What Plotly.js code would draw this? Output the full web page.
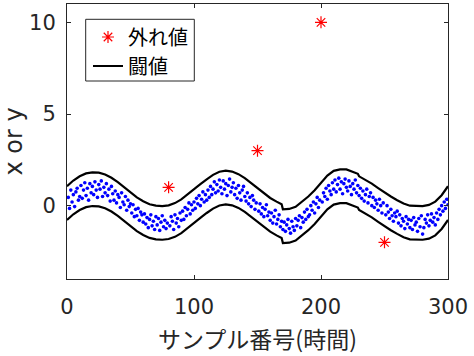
<!DOCTYPE html>
<html>
<head>
<meta charset="utf-8">
<script src="https://cdn.plot.ly/plotly-3.0.1.min.js"></script>
<style>html,body{margin:0;padding:0;background:#fff;}#chart{width:474px;height:356px;}</style>
</head>
<body>
<div id="chart"></div>
<script>
// Sample values (x = 1..300), null where the point is flagged as an outlier
const sampleY = [
  0.45,-0.15,0.85,0.2,0.6,-0.05,0.75,0.95,0.3,0.5,
  1.1,0.4,0.85,1.25,0.55,0.95,0.3,1.2,0.7,1.05,
  0.6,1.3,0.85,0.45,1.15,0.9,1.35,0.5,1.0,0.7,
  1.2,0.55,0.9,0.25,1.05,0.65,0.3,0.8,0.15,0.6,
  0.45,-0.1,0.7,0.2,0.05,0.5,-0.25,0.3,-0.05,0.1,
  -0.4,0.05,-0.6,-0.2,-0.55,-0.15,-0.8,-0.35,-0.5,-0.9,
  -0.45,-1.0,-0.65,-1.2,-0.75,-0.5,-1.1,-0.85,-1.3,-0.6,
  -1.05,-0.7,-1.35,-0.9,-0.55,-1.15,-0.8,-1.25,-0.95,null,
  -1.1,-0.6,-0.85,-1.3,-0.5,-0.95,-0.7,-1.15,-0.4,-0.8,
  -0.3,-0.75,-0.1,-0.55,-0.2,0.15,-0.45,0.05,-0.25,0.2,
  -0.15,0.4,0.1,0.55,0.0,0.35,0.75,0.2,0.6,0.3,
  0.85,0.45,1.05,0.6,0.9,1.3,0.7,1.15,0.8,1.4,
  1.0,0.65,1.35,0.9,1.2,0.55,1.1,1.45,0.75,1.0,
  1.25,0.6,0.95,0.4,1.1,0.7,0.3,0.85,1.05,0.5,
  0.25,0.7,0.1,0.45,-0.05,0.55,0.3,-0.2,0.15,null,
  -0.3,0.1,-0.45,-0.1,-0.6,-0.2,0.05,-0.55,-0.35,-0.8,
  -0.4,-0.95,-0.6,-0.25,-1.0,-0.75,-0.5,-1.15,-0.85,-1.3,
  -0.9,-1.4,-1.05,-0.75,-1.25,-1.5,-0.85,-1.15,-1.35,-0.7,
  -1.1,-0.8,-0.55,-1.2,-0.65,-0.9,-0.35,-0.75,-0.2,-0.6,
  -0.5,0.0,-0.25,0.2,-0.4,0.1,0.45,-0.1,0.3,null,
  0.2,0.7,0.5,0.95,0.35,1.1,0.8,0.6,1.25,0.9,
  1.4,0.75,1.15,1.5,0.9,1.3,0.65,1.2,1.45,1.0,
  0.8,1.35,1.05,0.6,1.2,0.9,1.4,0.7,1.1,0.55,
  0.95,0.4,0.8,0.25,0.6,0.9,0.15,0.5,0.7,0.0,
  0.45,-0.1,0.3,0.1,-0.25,0.35,0.0,-0.4,0.15,null,
  -0.5,0.0,-0.35,-0.7,-0.2,-0.55,-0.85,-0.4,-0.6,-0.3,
  -0.95,-0.5,-1.1,-0.7,-0.85,-1.25,-0.6,-1.0,-0.75,-1.2,
  -0.8,-1.3,-0.65,-1.05,-0.9,-1.4,-0.7,-1.15,-0.55,-1.55,
  -1.2,-0.75,-0.95,-0.5,-1.1,-0.8,-0.45,-0.9,-0.65,-1.05,
  -0.4,-0.75,-0.2,-0.5,0.0,-0.3,0.2,-0.15,0.35,0.05
];
const sampleX = sampleY.map((_, i) => i + 1);

// Threshold curves
const thrX = [0,5,10,15,20,25,30,35,40,45,50,55,60,65,70,75,80,85,90,95,100,105,110,115,120,125,130,135,140,145,150,155,160,165,169,170,175,180,185,190,195,200,205,210,215,220,225,229,230,235,240,245,250,255,260,265,270,275,280,285,290,295,300];
const upperThr = [1.06,1.37,1.60,1.76,1.82,1.80,1.70,1.52,1.28,1.00,0.72,0.45,0.24,0.08,0.00,-0.02,0.02,0.14,0.34,0.60,0.88,1.17,1.44,1.68,1.85,1.91,1.86,1.72,1.50,1.22,0.94,0.67,0.42,0.22,0.08,-0.20,-0.18,-0.06,0.20,0.50,0.84,1.22,1.64,1.90,1.98,1.98,1.87,1.74,1.60,1.42,1.20,0.96,0.72,0.50,0.30,0.12,0.00,-0.03,-0.02,0.04,0.22,0.57,1.06];
const lowerThr = [-0.78,-0.47,-0.24,-0.08,-0.02,-0.04,-0.14,-0.32,-0.56,-0.84,-1.12,-1.39,-1.60,-1.76,-1.84,-1.86,-1.82,-1.70,-1.50,-1.24,-0.96,-0.67,-0.40,-0.16,0.01,0.07,0.02,-0.12,-0.34,-0.62,-0.90,-1.17,-1.42,-1.62,-1.76,-2.04,-2.02,-1.90,-1.64,-1.34,-1.00,-0.62,-0.20,0.06,0.14,0.14,0.03,-0.10,-0.24,-0.42,-0.64,-0.88,-1.12,-1.34,-1.54,-1.72,-1.84,-1.87,-1.86,-1.80,-1.62,-1.27,-0.78];

// Outliers
const outlierX = [80,150,200,250];
const outlierY = [1,3,10,-2];

const legendLabels = ['外れ値','闘値'];
const xTickVals = [0,100,200,300];
const yTickVals = [0,5,10];

const CJK = '"Noto Sans CJK JP", "Noto Sans", sans-serif';
const LAT = '"DejaVu Sans", sans-serif';
const TXT = '#262626';

const traces = [
  {x: sampleX, y: sampleY, type:'scatter', mode:'markers',
   marker:{color:'#0000ff', size:3.6}, showlegend:false, hoverinfo:'skip'},
  {x: thrX, y: upperThr, type:'scatter', mode:'lines', name: legendLabels[1],
   line:{color:'#000000', width:2.2}, legendrank:2},
  {x: thrX, y: lowerThr, type:'scatter', mode:'lines', showlegend:false,
   line:{color:'#000000', width:2.2}},
  {x: outlierX, y: outlierY, type:'scatter', mode:'markers', name: legendLabels[0],
   marker:{symbol:'asterisk-open', color:'#ff0000', size:10, line:{color:'#ff0000', width:1.2}}, legendrank:1}
];

const axisCommon = {
  showline:true, linecolor:TXT, linewidth:1, mirror:'ticks',
  ticks:'inside', ticklen:4, tickcolor:TXT, showgrid:false, zeroline:false,
  tickfont:{family:LAT, size:21, color:TXT}
};

const layout = {
  width:474, height:356,
  margin:{l:67, r:26, t:4, b:77},
  paper_bgcolor:'#fff', plot_bgcolor:'#fff',
  font:{family:CJK, color:TXT},
  xaxis: Object.assign({}, axisCommon, {
    range:[0,300], tickvals:xTickVals, ticktext:xTickVals.map(String),
    ticklabelstandoff:9,
    title:{text:'サンプル番号(時間)', font:{family:CJK, size:23, color:TXT}, standoff:13}
  }),
  yaxis: Object.assign({}, axisCommon, {
    range:[-4,11], tickvals:yTickVals, ticktext:yTickVals.map(String),
    ticklabelstandoff:6,
    title:{text:'x or y', font:{family:LAT, size:24, color:TXT}, standoff:6}
  }),
  legend:{x:(88-67)/381, y:1-(17.5-4)/275, xanchor:'left', yanchor:'top',
    bgcolor:'rgba(0,0,0,0)', borderwidth:0,
    font:{family:CJK, size:20, color:'#000'}, itemwidth:30, tracegroupgap:0},
  shapes:[{type:'rect', xref:'paper', yref:'paper',
    x0:(85.7-67)/381, x1:(194.3-67)/381, y0:1-(81-4)/275, y1:1-(19.3-4)/275,
    line:{color:'#262626', width:1}, fillcolor:'rgba(255,255,255,0)', layer:'above'}],
  showlegend:true
};

Plotly.newPlot('chart', traces, layout, {displayModeBar:false, staticPlot:true});
</script>
</body>
</html>
